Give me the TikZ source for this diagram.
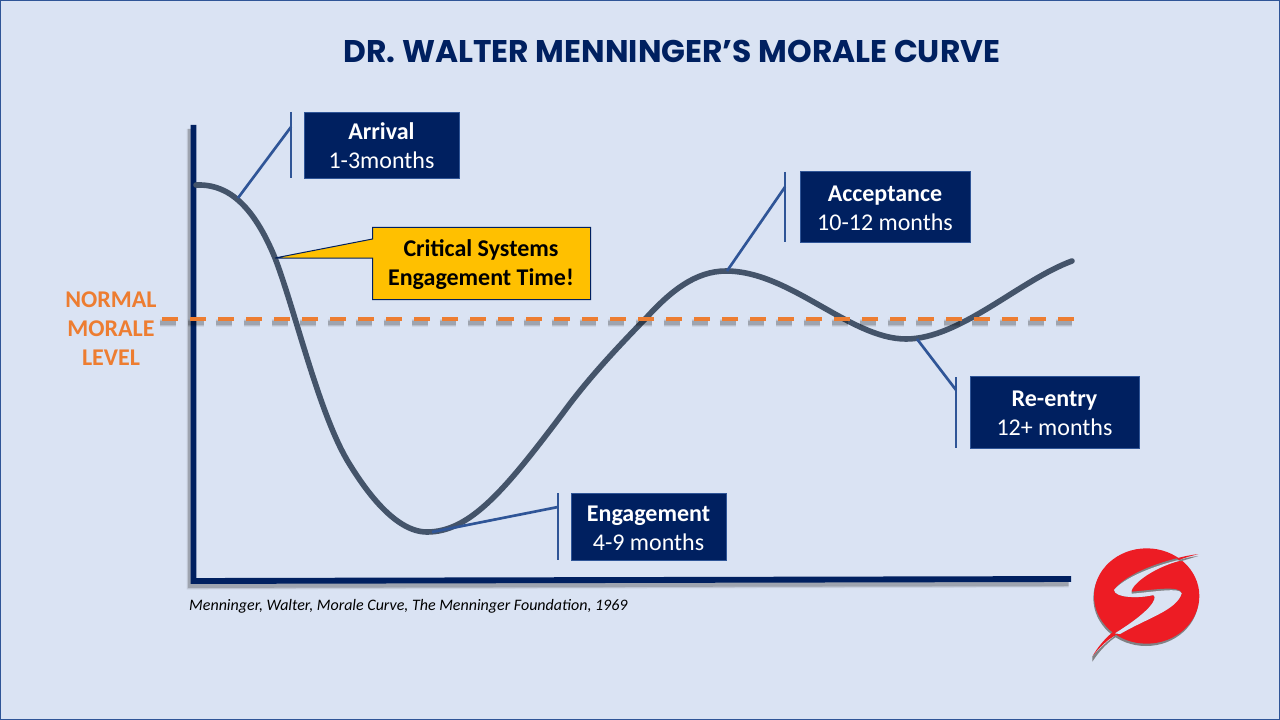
\documentclass[tikz,border=0pt]{standalone}
\usepackage{fontspec}
\setmainfont{Carlito}
\newfontfamily\titlefont{Poppins}
\definecolor{slidebg}{HTML}{DAE3F3}
\definecolor{slideline}{HTML}{2F5597}
\definecolor{navy}{HTML}{002060}
\definecolor{curveslate}{HTML}{44546A}
\definecolor{moraleorange}{HTML}{ED7D31}
\definecolor{calloutgold}{HTML}{FFC000}
\definecolor{logored}{HTML}{ED1C24}
\definecolor{logogray}{HTML}{808285}
\newcommand{\stagehead}[1]{\rule{0pt}{14pt}\textbf{#1}}
\tikzset{
    softshadow/.style 2 args={
        preaction={draw=black,opacity=.06,line width=#1+2.4pt,#2,transform canvas={shift={(-1.8pt,-3pt)}}},
        preaction={draw=black,opacity=.10,line width=#1+1.2pt,#2,transform canvas={shift={(-1.8pt,-3pt)}}},
        preaction={draw=black,opacity=.14,line width=#1,#2,transform canvas={shift={(-1.8pt,-3pt)}}}},
    axisline/.style={draw=navy,line width=4.4pt,softshadow={4.4pt}{solid}},
    levelline/.style={draw=moraleorange,line width=3pt,dash pattern=on 12pt off 9pt,softshadow={3pt}{dash pattern=on 12pt off 9pt}},
    moralecurve/.style={draw=curveslate,line width=4.2pt,line cap=round},
    leader/.style={draw=slideline,line width=2pt},
    stagebox/.style={fill=navy,draw=slideline,line width=.4pt,text=white,align=center,inner sep=0pt,font=\fontsize{18}{21.75}\selectfont},
}
\begin{document}
\begin{tikzpicture}[x=0.75pt,y=-0.75pt]
    \useasboundingbox (0,0) rectangle (1280,720);
    \fill[slidebg] (0,0) rectangle (1280,720);
    \draw[slideline,line width=.75pt] (0.5,0.5) rectangle (1279.5,719.5);
    \node (title) at (672,51) {\titlefont\fontsize{23.5}{28}\selectfont\bfseries\color{navy}DR. WALTER MENNINGER’S MORALE CURVE};
    % axes and level
    \coordinate (axistop) at (193.5,125);
    \coordinate (origin) at (193.5,581);
    \coordinate (axisend) at (1071,579);
    \coordinate (levelstart) at (162,319);
    \coordinate (levelend) at (1074,319);
    \draw[axisline] (axistop) -- (origin) -- (axisend);
    \draw[moralecurve] (196,185) .. controls (222,184) and (250,197) .. (275,258)
        .. controls (295,310) and (318,410) .. (347,460)
        .. controls (365,490) and (395,532) .. (427,532)
        .. controls (470,532) and (505,490) .. (563,413)
        .. controls (590,376) and (620,345) .. (647,317)
        .. controls (670,292) and (695,271) .. (726,271)
        .. controls (790,271) and (850,339) .. (906,339)
        .. controls (960,339) and (1020,280) .. (1072,261);
    \draw[levelline] (levelstart) -- (levelend);
    \node[text=moraleorange,align=center,font=\fontsize{18}{21.75}\selectfont\bfseries] (level) at (111,329) {NORMAL\\MORALE\\LEVEL};
    % stages
    \node[stagebox,minimum width=116.25pt,minimum height=49.5pt] (arrival) at (381.5,145) {\stagehead{Arrival}\\1-3months};
    \node[stagebox,minimum width=127.5pt,minimum height=53.25pt] (acceptance) at (885,206.5) {\stagehead{Acceptance}\\10-12 months};
    \node[stagebox,minimum width=126.75pt,minimum height=54pt] (reentry) at (1054.5,412) {\stagehead{Re-entry}\\12+ months};
    \node[stagebox,minimum width=116.25pt,minimum height=50.25pt] (engagement) at (648.5,526.5) {\stagehead{Engagement}\\4-9 months};
    % leaders
    \coordinate (arrivaltop) at (291,112);
    \coordinate (arrivalbottom) at (291,178);
    \coordinate (arrivaljoin) at (291,127);
    \coordinate (arrivalcurve) at (238,198);
    \draw[leader] (arrivaltop) -- (arrivalbottom);
    \draw[leader] (arrivalcurve) -- (arrivaljoin);
    \coordinate (acceptancetop) at (785,172);
    \coordinate (acceptancebottom) at (785,242);
    \coordinate (acceptancejoin) at (785,187);
    \coordinate (acceptancecurve) at (727,271);
    \draw[leader] (acceptancetop) -- (acceptancebottom);
    \draw[leader] (acceptancecurve) -- (acceptancejoin);
    \coordinate (reentrytop) at (956,377);
    \coordinate (reentrybottom) at (956,448);
    \coordinate (reentryjoin) at (956,390);
    \coordinate (reentrycurve) at (917,339);
    \draw[leader] (reentrytop) -- (reentrybottom);
    \draw[leader] (reentrycurve) -- (reentryjoin);
    \coordinate (engagementtop) at (558,493);
    \coordinate (engagementbottom) at (558,560);
    \coordinate (engagementjoin) at (558,507);
    \coordinate (engagementcurve) at (432,532);
    \draw[leader] (engagementtop) -- (engagementbottom);
    \draw[leader] (engagementcurve) -- (engagementjoin);
    % callout
    \draw[fill=calloutgold,draw=navy,line width=.75pt] (372.5,227.5) -- (590.5,227.5) -- (590.5,299.5) -- (372.5,299.5) -- (372.5,258) -- (275,258) -- (372.5,239) -- cycle;
    \node[align=center,font=\fontsize{18}{21.75}\selectfont\bfseries] (critical) at (481,265) {Critical Systems\\Engagement Time!};
    \node[anchor=west,font=\fontsize{12}{14}\selectfont\itshape] (source) at (184.5,606) {Menninger, Walter, Morale Curve, The Menninger Foundation, 1969};
    % logo
    \begin{scope}[shift={(1060,530)},x=0.25pt,y=-0.25pt]
        \fill[logogray] (258,205) ellipse (158 and 143);
        \fill[logored] (260,198) ellipse (158 and 143);
        \begin{scope}
            \clip (260,198) ellipse (158 and 143);
            \fill[logogray] (350,85) .. controls (270,105) and (190,140) .. (162,180) .. controls (165,205) and (240,205) .. (280,195) .. controls (295,205) and (270,245) .. (165,310) -- (180,312) .. controls (260,265) and (350,235) .. (365,190) .. controls (360,165) and (280,180) .. (215,185) .. controls (205,165) and (270,110) .. (360,92) -- cycle;
            \fill[slidebg] (352,91) .. controls (270,111) and (190,146) .. (162,180) .. controls (165,205) and (240,205) .. (280,195) .. controls (295,205) and (270,245) .. (165,310) -- (180,312) .. controls (260,265) and (350,241) .. (365,190) .. controls (360,171) and (280,186) .. (215,191) .. controls (205,171) and (270,116) .. (360,92) -- cycle;
        \end{scope}
        \fill[logored] (350,85) .. controls (375,78) and (395,75) .. (415,72) .. controls (395,78) and (375,82) .. (358,90) -- cycle;
        \fill[logogray] (358,90) .. controls (375,84) and (395,80) .. (415,78) .. controls (395,84) and (375,90) .. (362,94) -- cycle;
        \fill[logored] (160,305) .. controls (135,325) and (110,355) .. (97,380) .. controls (115,355) and (140,330) .. (168,315) -- cycle;
        \fill[logogray] (97,380) .. controls (115,358) and (140,335) .. (168,315) -- (172,318) .. controls (145,335) and (120,360) .. (97,395) -- cycle;
    \end{scope}
\end{tikzpicture}
\end{document}
